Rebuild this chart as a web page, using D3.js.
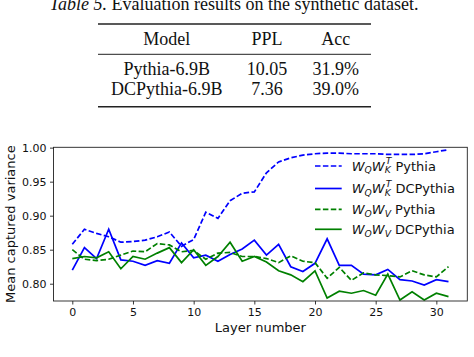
<!DOCTYPE html>
<html><head><meta charset="utf-8">
<script src="https://cdn.jsdelivr.net/npm/d3@7"></script>
<style>body{margin:0;background:#fff}svg{display:block}</style>
</head><body>
<svg id="c" width="474" height="357"></svg>
<script>
// ---- data ----
const tableHeader = ["Model", "PPL", "Acc"];
const tableModels = ["Pythia-6.9B", "DCPythia-6.9B"];
const tablePPL = ["10.05", "7.36"];
const tableAcc = ["31.9%", "39.0%"];

const layers = [0,1,2,3,4,5,6,7,8,9,10,11,12,13,14,15,16,17,18,19,20,21,22,23,24,25,26,27,28,29,30,31];
const qkPythia = [0.858,0.880,0.874,0.869,0.861,0.862,0.864,0.869,0.876,0.855,0.865,0.905,0.896,0.922,0.933,0.935,0.963,0.979,0.985,0.989,0.991,0.992,0.992,0.991,0.991,0.991,0.990,0.990,0.990,0.991,0.994,0.997];
const qkDCPythia = [0.820,0.853,0.837,0.880,0.835,0.833,0.827,0.834,0.830,0.860,0.838,0.842,0.833,0.843,0.851,0.864,0.842,0.858,0.825,0.818,0.830,0.866,0.827,0.827,0.814,0.813,0.821,0.806,0.804,0.798,0.806,0.803];
const ovPythia = [0.850,0.836,0.834,0.836,0.842,0.848,0.847,0.859,0.857,0.847,0.849,0.836,0.845,0.846,0.840,0.840,0.837,0.831,0.841,0.833,0.831,0.808,0.824,0.805,0.816,0.813,0.812,0.810,0.819,0.813,0.810,0.825];
const ovDCPythia = [0.837,0.840,0.838,0.847,0.822,0.840,0.836,0.845,0.853,0.831,0.850,0.827,0.840,0.861,0.833,0.840,0.832,0.819,0.813,0.803,0.819,0.779,0.789,0.786,0.790,0.783,0.814,0.776,0.788,0.776,0.786,0.781];
const xTicks = [0,5,10,15,20,25,30];
const yTicks = [0.80,0.85,0.90,0.95,1.00];

const series = [
  {values: qkPythia, color: "#0000ff", dash: "5.5,2.4", label: [["W","i"],["Q","sub"],["W","i"],["K","sub"],["T","sup"],[" Pythia","n"]]},
  {values: qkDCPythia, color: "#0000ff", dash: null, label: [["W","i"],["Q","sub"],["W","i"],["K","sub"],["T","sup"],[" DCPythia","n"]]},
  {values: ovPythia, color: "#008000", dash: "5.5,2.4", label: [["W","i"],["O","sub"],["W","i"],["V","sub"],[" Pythia","n"]]},
  {values: ovDCPythia, color: "#008000", dash: null, label: [["W","i"],["O","sub"],["W","i"],["V","sub"],[" DCPythia","n"]]}
];

const svg = d3.select("#c");
svg.append("rect").attr("width",474).attr("height",357).attr("fill","#fff");

// ---- table ----
const serif = "'Liberation Serif','Times New Roman',serif";
const cap = svg.append("text").attr("x",234).attr("y",9.5).attr("text-anchor","middle")
  .attr("font-family",serif).attr("font-size",18).attr("fill","#111");
cap.append("tspan").attr("font-style","italic").text("Table 5.");
cap.append("tspan").text(" Evaluation results on the synthetic dataset.");

const colX = [166.7, 267, 335.7];
const ruleX0 = 98, ruleX1 = 371;
[[24,1.4],[54.3,1.0],[106.7,1.4]].forEach(([y,w]) => {
  svg.append("line").attr("x1",ruleX0).attr("x2",ruleX1).attr("y1",y).attr("y2",y)
    .attr("stroke","#222").attr("stroke-width",w);
});
const rowsY = [45, 75, 95];
const tableRows = [tableHeader,
  [tableModels[0], tablePPL[0], tableAcc[0]],
  [tableModels[1], tablePPL[1], tableAcc[1]]];
tableRows.forEach((row, r) => {
  row.forEach((t, c) => {
    svg.append("text").attr("x",colX[c]).attr("y",rowsY[r]).attr("text-anchor","middle")
      .attr("font-family",serif).attr("font-size",18).attr("fill","#111").text(t);
  });
});

// ---- chart ----
const sans = "'DejaVu Sans', sans-serif";
const L = 53.5, R = 467.3, T = 147.3, B = 301;
const x = d3.scaleLinear().domain([-1.55, 32.55]).range([L, R]);
const y = d3.scaleLinear().domain([0.7746, 1.0005]).range([B, T]);

const g = svg.append("g");
const xAxis = g.append("g").attr("transform",`translate(0,${B})`)
  .call(d3.axisBottom(x).tickValues(xTicks).tickFormat(d3.format("d")).tickSize(3.5).tickPadding(3.5));
const yAxis = g.append("g").attr("transform",`translate(${L},0)`)
  .call(d3.axisLeft(y).tickValues(yTicks).tickFormat(d3.format(".2f")).tickSize(3.5).tickPadding(3.5));
[xAxis, yAxis].forEach(a => {
  a.select(".domain").remove();
  a.selectAll("line").attr("stroke","#222").attr("stroke-width",0.9);
  a.selectAll("text").attr("font-family",sans).attr("font-size",11).attr("fill","#111");
});

const line = d3.line().x((d,i) => x(layers[i])).y(d => y(d));
svg.append("clipPath").attr("id","pc").append("rect")
  .attr("x",L).attr("y",T).attr("width",R-L).attr("height",B-T);
series.forEach(s => {
  g.append("path").datum(s.values).attr("d",line).attr("fill","none")
    .attr("stroke",s.color).attr("stroke-width",1.7)
    .attr("stroke-dasharray",s.dash).attr("clip-path","url(#pc)");
});

g.append("rect").attr("x",L).attr("y",T).attr("width",R-L).attr("height",B-T)
  .attr("fill","none").attr("stroke","#222").attr("stroke-width",0.9);

svg.append("text").attr("x",(L+R)/2).attr("y",332).attr("text-anchor","middle")
  .attr("font-family",sans).attr("font-size",13).attr("fill","#111").text("Layer number");
svg.append("text").attr("transform",`translate(15,${(T+B)/2}) rotate(-90)`).attr("text-anchor","middle")
  .attr("font-family",sans).attr("font-size",13).attr("fill","#111").text("Mean captured variance");

// ---- legend ----
const legY = [166, 188.5, 209.3, 229.3];
series.forEach((s, k) => {
  const ly = legY[k];
  svg.append("line").attr("x1",315).attr("x2",341.7).attr("y1",ly).attr("y2",ly)
    .attr("stroke",s.color).attr("stroke-width",1.7).attr("stroke-dasharray",s.dash);
  let cx = 351.7, lastX = cx;
  const base = ly + 4.6;
  s.label.forEach(([t, kind]) => {
    const el = svg.append("text").attr("font-family",sans).attr("fill","#111").text(t)
      .style("white-space","pre");
    if (kind === "i") { el.attr("font-size",13).attr("font-style","italic").attr("y",base); }
    else if (kind === "sub") { el.attr("font-size",9.2).attr("font-style","italic").attr("y",base+2.6); }
    else if (kind === "sup") { el.attr("font-size",9.2).attr("font-style","italic").attr("y",base-6.5); }
    else { el.attr("font-size",13).attr("y",base).attr("xml:space","preserve"); }
    if (kind === "sup") {
      el.attr("x", lastX + 1);
      const w = el.node().getComputedTextLength();
      cx = Math.max(cx, lastX + 1 + w);
    } else {
      el.attr("x", cx);
      const w = el.node().getComputedTextLength();
      lastX = cx;
      cx += w;
    }
  });
});
</script>
</body></html>
